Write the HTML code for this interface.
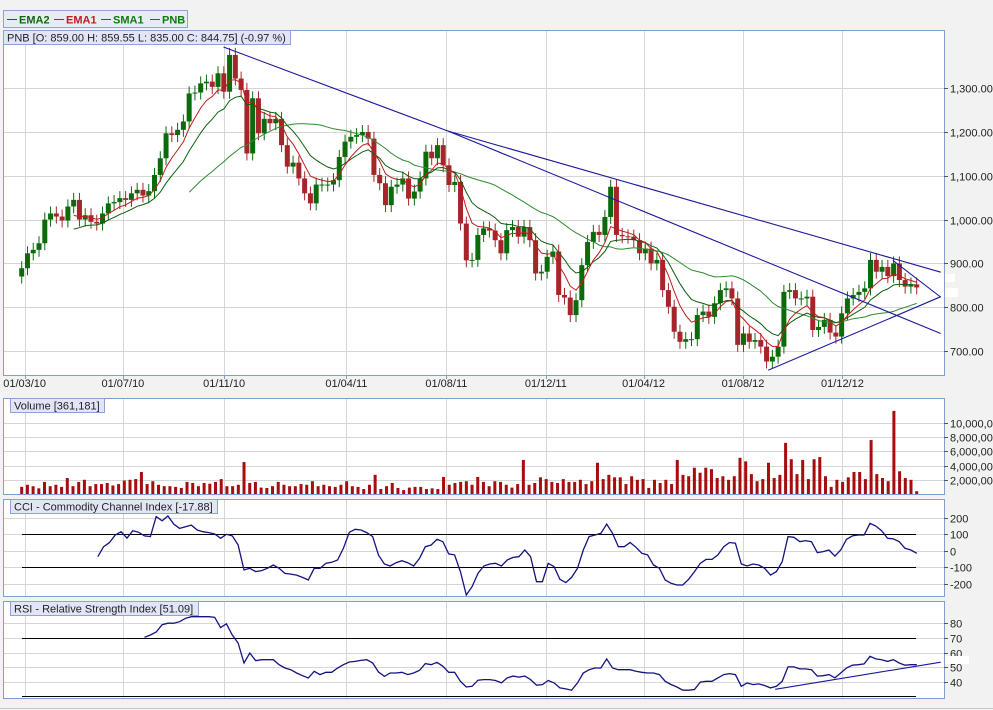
<!DOCTYPE html>
<html><head><meta charset="utf-8"><style>
html,body{margin:0;padding:0;background:#f2f2f2;}
body{width:993px;height:710px;overflow:hidden;font-family:"Liberation Sans",sans-serif;}
svg{display:block}
text{font-family:"Liberation Sans",sans-serif;}
</style></head><body>
<svg id="chart" width="993" height="710" xmlns="http://www.w3.org/2000/svg"></svg>
<script>
// ---- data ----
const dateLabels = ["01/03/10","01/07/10","01/11/10","01/04/11","01/08/11","01/12/11","01/04/12","01/08/12","01/12/12"];
const dateWeeks = [0.5,17.3,34.6,55.5,72.6,89.6,106.3,123.3,140.3];
const priceTicks = [700,800,900,1000,1100,1200,1300];
const volTicks = [2,4,6,8,10];
const cciTicks = [200,100,0,-100,-200];
const rsiTicks = [80,70,60,50,40];
const closes = [889,923,931,946,1000,1014,1007,998,1030,1045,1000,1010,995,991,1014,1037,1040,1049,1045,1060,1068,1055,1065,1102,1140,1197,1193,1205,1224,1288,1290,1311,1315,1303,1334,1292,1376,1322,1296,1151,1277,1197,1230,1220,1230,1170,1121,1130,1094,1060,1037,1080,
1080,1080,1090,1143,1178,1189,1193,1200,1185,1102,1083,1033,1075,1080,1094,1048,1064,1094,1155,1140,1170,1124,1079,1086,991,907,908,965,980,975,953,923,976,983,961,983,953,877,881,915,927,828,822,782,816,896,949,972,965,1006,1075,965,962,961,
953,923,934,900,908,839,801,744,721,727,727,782,790,778,809,839,843,820,714,740,721,725,710,676,687,710,835,839,820,820,824,748,755,771,742,733,786,820,828,835,843,908,881,892,871,900,862,847,852,845];
const firstOpen = 870;
const volumes = [1.0,1.3,1.1,0.8,1.7,1.1,1.3,1.0,2.25,1.1,1.7,2.0,1.1,1.4,1.4,1.55,1.2,1.4,1.9,2.0,2.1,3.1,1.4,1.8,1.3,1.1,1.1,1.0,0.85,1.7,1.55,1.1,1.55,1.45,1.7,2.1,1.1,1.1,1.3,4.5,1.55,1.7,0.9,0.85,1.1,1.7,1.3,1.1,1.1,1.4,1.3,1.8,1.1,1.3,1.1,1.0,1.3,1.8,1.1,1.0,0.7,1.3,2.7,0.7,1.1,1.55,0.85,0.55,0.9,1.0,1.0,0.7,0.8,0.7,2.4,1.3,1.55,1.7,1.8,1.3,2.4,
1.7,1.1,1.8,1.7,1.3,0.9,1.4,4.8,1.3,1.55,2.35,2.1,1.7,1.55,2.1,1.7,1.7,2.0,1.4,1.8,4.4,2.1,2.7,2.35,2.35,1.4,2.5,2.0,2.1,0.85,2.0,1.55,2.0,1.4,4.8,2.7,2.5,3.7,3.0,3.7,3.5,2.25,2.5,2.0,2.5,5.1,4.6,2.8,1.8,2.1,4.4,2.25,2.7,7.2,4.9,2.8,4.8,2.1,4.9,5.2,2.5,1.0,2.0,1.7,2.35,3.1,3.1,2.1,7.6,2.8,2.25,1.8,11.7,3.2,2.25,2.0,0.4];
const cciStart = 13;
const cciValues = [-36,25,50,96,116,77,122,112,90,86,207,182,211,162,136,146,156,126,116,110,102,76,100,90,36,-116,-106,-126,-120,-106,-86,-106,-137,-141,-147,-161,-177,-106,-106,-76,-70,-56,15,112,130,126,110,86,-26,-80,-92,-72,-60,-72,-92,-46,25,35,70,55,-19,-25,-126,-268,-217,-137,
-92,-80,-76,-92,-56,-40,-36,5,-36,-187,-187,-76,-96,-173,-193,-161,-106,5,86,96,106,162,106,25,25,50,21,-15,-25,-86,-106,-177,-197,-207,-207,-173,-126,-76,-52,-52,-25,25,50,46,-80,-92,-80,-86,-106,-147,-126,-66,86,82,55,62,55,-11,-5,5,-32,5,70,90,96,96,166,150,122,76,72,55,15,5,-15];
const rsiStart = 21;
const rsiValues = [70.4,72,74,79,80,80,81,83.3,84.4,84.4,84.4,84.4,84,77,79.6,72,66.5,52.9,59.7,54.5,55.2,55.2,55.2,51.8,49.5,48.4,46.1,44.3,42.7,47.3,45,46.6,46.6,49.5,51.8,53.6,54,54.7,55.2,52.9,46.8,43.8,46.1,46.1,46.6,45,46.1,47.9,52.5,51.8,53.4,50.7,46.6,46.6,40.5,36.6,37.1,41.2,
41.6,41.6,41,39.4,42.8,44,43.3,44,41.6,37.8,38.2,41,39.4,36,35.3,34.4,39.4,46.1,48.4,49.5,49.5,55.7,49.5,48.4,48.4,48.4,47.3,46.6,46.1,46.1,45,40.5,38.3,36.6,34.4,34.4,34.9,39.9,40.5,40.5,42.8,45,45.7,45,37.1,39.4,38.2,38.7,37.6,36,37.1,40.5,50.3,50.3,48.9,48.9,48.4,44,44.3,45,42.8,46.1,49.5,51.4,51.8,52.3,57.5,55.7,55.2,54,55.2,52.9,51.4,51.8,51.8];
// trendlines as [week, price]
const priceTrendA = [[34.5,1394],[72.9,1202]];
const priceTrendB = [[72.9,1202],[157.1,880]];
const priceTrendC = [[72.9,1202],[157.1,740]];
const priceTrendD = [[127.6,656],[157.1,824]];
const priceTrendE = [[148.9,907],[157.1,823]];
const rsiTrend = [[128.8,35],[157.1,53.5]];

// ---- layout ----
const NS="http://www.w3.org/2000/svg";
const svg=document.getElementById('chart');
function el(tag,attrs,parent){const e=document.createElementNS(NS,tag);for(const k in attrs)e.setAttribute(k,attrs[k]);(parent||svg).appendChild(e);return e;}
const L=3,R=944,X0=21.7,STEP=5.85;
function xWeek(w){return X0+w*STEP;}
function yPrice(p){return 351-(p-700)*0.438;}
function yVol(m){return 494-m*7.1;}
function yCci(v){return 550.8-v*0.165;}
function yRsi(v){return 667.3-(v-50)*1.47;}

function panel(name,top,bottom,yf,ticks,fmt){
  const g=el('g',{});
  
  
  el('rect',{x:L+0.5,y:top+0.5,width:R-L,height:bottom-top,fill:'#fff',stroke:'#7f9fd2'},g);
  dateWeeks.forEach(w=>{const x=Math.round(xWeek(w))+0.5;el('line',{x1:x,x2:x,y1:top+1,y2:bottom,stroke:'#d6d6d6'},g);});
  ticks.forEach(t=>{const y=Math.round(yf(t))+0.5;
    el('line',{x1:L+1,x2:R,y1:y,y2:y,stroke:'#d6d6d6'},g);
    el('line',{x1:R,x2:R+4,y1:y,y2:y,stroke:'#555'},g);
    const tx=el('text',{x:R+6,y:y+4,'font-size':'11',fill:'#222'},g);tx.textContent=fmt(t);
  });
  return g;
}
function header(name,x,y,txt){
  const g=el('g',{});
  
  
  const r=el('rect',{x:x+0.5,y:y+0.5,width:100,height:14,fill:'#e1e5f6',stroke:'#8ea2d4'},g);
  const t=el('text',{x:x+4,y:y+11.5,'font-size':'11',fill:'#222'},g);t.textContent=txt;
  r.setAttribute('width',Math.ceil(t.getComputedTextLength()+8));
  return g;
}
function comma(n){return n.toString().replace(/\B(?=(\d{3})+(?!\d))/g,',');}

// main panel
panel('price-panel',30,375,yPrice,priceTicks,t=>comma(t)+'.00');
dateLabels.forEach((d,i)=>{const x=xWeek(dateWeeks[i]);
  el('line',{x1:Math.round(x)+0.5,x2:Math.round(x)+0.5,y1:375,y2:379,stroke:'#7f9fd2'});
  const t=el('text',{x:x,y:387,'font-size':'11','text-anchor':'middle',fill:'#222'});
  
  
  t.textContent=d;});

// candles
const nC=closes.length;const cStep=(916.7-X0)/(nC-1);
function xC(i){return X0+i*cStep;}
const candleG=el('g',{});


closes.forEach((c,i)=>{
  const o=i===0?firstOpen:closes[i-1];
  const up=c>=o;const col=up?'#0b6b0b':'#a4262a';
  const hi=Math.max(o,c)+16,lo=Math.min(o,c)-16;
  const x=xC(i);
  el('line',{x1:x,x2:x,y1:yPrice(hi),y2:yPrice(lo),stroke:col,'stroke-width':1},candleG);
  const y1=yPrice(Math.max(o,c)),y2=yPrice(Math.min(o,c));
  const b=el('rect',{x:x-2.5,y:y1,width:5,height:Math.max(1,y2-y1),fill:col},candleG);
  
  
});
function ema(arr,n){const k=2/(n+1);let e=arr[0];return arr.map(v=>(e=v*k+e*(1-k)));}
function sma(arr,n){return arr.map((v,i)=>{if(i<n-1)return null;let s=0;for(let j=i-n+1;j<=i;j++)s+=arr[j];return s/n;});}
function drawLine(vals,start,xf,yf,col,name,w){
  let d='';vals.forEach((v,i)=>{if(v==null||i<start)return;d+=(d?'L':'M')+xf(i).toFixed(1)+','+yf(v).toFixed(1);});
  const p=el('path',{d:d,fill:'none',stroke:col,'stroke-width':w||1});
  
  
  return p;
}
drawLine(sma(closes,28),29,xC,yPrice,'#2e8b2e','sma1-line');
drawLine(ema(closes,12),9,xC,yPrice,'#0b5e0b','ema2-line');
drawLine(ema(closes,6),9,xC,yPrice,'#c41a1a','ema1-line');
function trend(pts,yf,name){
  const l=el('line',{x1:xWeek(pts[0][0]),y1:yf(pts[0][1]),x2:xWeek(pts[1][0]),y2:yf(pts[1][1]),stroke:'#1a1a9c','stroke-width':1.1});
  
  
}
trend(priceTrendA,yPrice,'trendline-a');
trend(priceTrendB,yPrice,'trendline-b');
trend(priceTrendC,yPrice,'trendline-c');
trend(priceTrendD,yPrice,'support-trendline');
trend(priceTrendE,yPrice,'trendline-e');
el('rect',{x:945,y:274,width:10,height:8,fill:'#fff'});
el('rect',{x:945,y:288,width:13,height:9,fill:'#fff'});

// legend
const lg=el('g',{});


el('rect',{x:3.5,y:10.5,width:184,height:17,fill:'#e8eaf6',stroke:'#8ea2d4'},lg);
[['EMA2','#0b6b0b',7],['EMA1','#c41a1a',54],['SMA1','#0b7b0b',101],['PNB','#0b7b0b',150]].forEach(e=>{
  el('line',{x1:e[2],x2:e[2]+10,y1:19.5,y2:19.5,stroke:e[1]},lg);
  const t=el('text',{x:e[2]+12,y:23.5,'font-size':'11','font-weight':'bold',fill:e[1]},lg);
  
  
  t.textContent=e[0];});
header('price-info-box',3,30,'PNB [O: 859.00  H: 859.55  L: 835.00  C: 844.75] (-0.97 %)');

// volume
panel('volume-panel',398,494,yVol,volTicks,t=>comma(t*1000000));
const vStep=(916.7-X0)/(volumes.length-1);
volumes.forEach((v,i)=>{const x=X0+i*vStep;
  const b=el('rect',{x:x-1.5,y:yVol(v),width:3,height:494-yVol(v),fill:'#a80d0d'});
  
  });
header('volume-header',10,398,'Volume [361,181]');

// CCI
panel('cci-panel',499,596,yCci,cciTicks,t=>String(t));
[100,-100].forEach(v=>{const y=Math.round(yCci(v))+0.5;el('line',{x1:22,x2:916,y1:y,y2:y,stroke:'#000'});});
drawLine(cciValues,0,i=>xWeek(cciStart+i),yCci,'#14147f','cci-line',1.3);
header('cci-header',10,499,'CCI - Commodity Channel Index [-17.88]');

// RSI
panel('rsi-panel',601,698,yRsi,rsiTicks,t=>String(t));
[70,30].forEach(v=>{const y=Math.min(696.5,Math.round(yRsi(v))+0.5);el('line',{x1:22,x2:916,y1:y,y2:y,stroke:'#000'});});
drawLine(rsiValues,0,i=>xWeek(rsiStart+i),yRsi,'#14147f','rsi-line',1.3);
trend(rsiTrend,yRsi,'rsi-trendline');
el('rect',{x:945,y:656,width:24,height:8,fill:'#fff'});
header('rsi-header',10,601,'RSI - Relative Strength Index [51.09]');
el('line',{x1:0,x2:993,y1:708.5,y2:708.5,stroke:'#c8c8c8'});
</script>
</body></html>
